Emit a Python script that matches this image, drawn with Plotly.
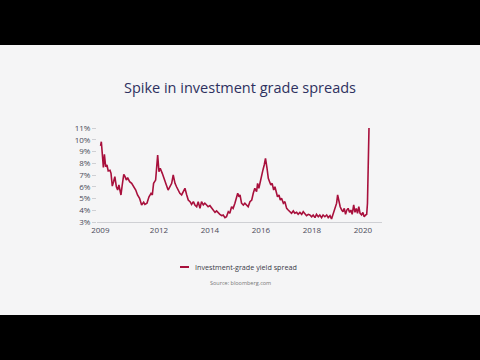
import plotly.graph_objects as go

years = [2009.71, 2009.74, 2009.82, 2009.86, 2009.91, 2009.96, 2010.01, 2010.08, 2010.12, 2010.17,
         2010.22, 2010.27, 2010.33, 2010.38, 2010.43, 2010.51, 2010.56, 2010.62, 2010.67, 2010.72,
         2010.77, 2010.85, 2010.93, 2011.01, 2011.09, 2011.16, 2011.24, 2011.32, 2011.40, 2011.45,
         2011.53, 2011.61, 2011.69, 2011.74, 2011.79, 2011.87, 2011.92, 2011.95, 2012.00, 2012.05,
         2012.13, 2012.21, 2012.29, 2012.36, 2012.43, 2012.50, 2012.56, 2012.63, 2012.69, 2012.76,
         2012.82, 2012.89, 2012.95, 2013.02, 2013.09, 2013.15, 2013.22, 2013.28, 2013.35, 2013.41,
         2013.48, 2013.54, 2013.61, 2013.67, 2013.74, 2013.80, 2013.87, 2013.93, 2014.00, 2014.07,
         2014.13, 2014.20, 2014.26, 2014.33, 2014.39, 2014.46, 2014.52, 2014.59, 2014.65, 2014.72,
         2014.78, 2014.85, 2014.91, 2014.98, 2015.05, 2015.09, 2015.14, 2015.18, 2015.24, 2015.31,
         2015.37, 2015.44, 2015.50, 2015.57, 2015.64, 2015.70, 2015.76, 2015.83, 2015.87, 2015.92,
         2015.97, 2016.03, 2016.08, 2016.13, 2016.18, 2016.24, 2016.29, 2016.34, 2016.39, 2016.44,
         2016.50, 2016.55, 2016.60, 2016.65, 2016.71, 2016.76, 2016.81, 2016.88, 2016.94, 2017.01,
         2017.07, 2017.14, 2017.20, 2017.27, 2017.33, 2017.40, 2017.46, 2017.53, 2017.60, 2017.66,
         2017.73, 2017.79, 2017.86, 2017.92, 2017.99, 2018.05, 2018.12, 2018.18, 2018.25, 2018.31,
         2018.38, 2018.44, 2018.51, 2018.58, 2018.64, 2018.71, 2018.77, 2018.84, 2018.90, 2018.97,
         2019.01, 2019.06, 2019.11, 2019.17, 2019.22, 2019.27, 2019.32, 2019.37, 2019.42, 2019.48,
         2019.53, 2019.58, 2019.64, 2019.69, 2019.74, 2019.79, 2019.84, 2019.89, 2019.95, 2020.00,
         2020.05, 2020.11, 2020.15, 2020.18, 2020.21, 2020.24]

spread = [9.47, 9.83, 7.65, 8.76, 7.70, 7.85, 7.34, 7.40, 7.14, 6.06,
          6.43, 6.86, 6.00, 5.72, 6.15, 5.30, 6.15, 7.06, 6.86, 6.57,
          6.77, 6.43, 6.29, 6.00, 5.72, 5.30, 5.02, 4.45, 4.68, 4.50,
          4.60, 5.15, 5.44, 5.30, 6.29, 6.57, 7.57, 8.70, 7.28, 7.57,
          7.14, 6.72, 6.15, 5.72, 6.00, 6.29, 7.00, 6.29, 6.00, 5.72,
          5.44, 5.30, 5.58, 5.87, 5.30, 4.87, 4.73, 4.50, 4.73, 4.45,
          4.30, 4.73, 4.16, 4.73, 4.45, 4.60, 4.45, 4.30, 4.39, 4.16,
          4.02, 3.82, 3.94, 3.74, 3.65, 3.54, 3.60, 3.37, 3.45, 3.88,
          3.74, 4.30, 4.16, 4.60, 5.20, 5.44, 5.15, 5.30, 4.60, 4.45,
          4.60, 4.45, 4.30, 4.73, 4.87, 5.44, 5.87, 5.58, 6.29, 5.87,
          6.43, 6.86, 7.43, 7.85, 8.42, 7.57, 6.72, 6.43, 6.15, 6.29,
          5.72, 6.00, 5.44, 5.15, 5.30, 4.87, 5.02, 4.60, 4.73, 4.16,
          4.02, 3.88, 3.74, 3.94, 3.74, 3.82, 3.65, 3.82, 3.65, 3.88,
          3.70, 3.54, 3.65, 3.60, 3.45, 3.60, 3.37, 3.65, 3.45, 3.60,
          3.37, 3.60, 3.45, 3.60, 3.37, 3.54, 3.26, 3.74, 4.16, 4.60,
          5.30, 4.60, 4.30, 4.02, 3.88, 4.16, 3.65, 4.02, 4.16, 3.82,
          4.02, 3.65, 4.45, 3.82, 4.16, 3.74, 4.30, 3.74, 3.60, 3.82,
          3.45, 3.60, 3.65, 4.60, 8.42, 11.03]

tick_vals = [2009.7, 2012, 2014, 2016, 2018, 2020]
tick_text = ["2009", "2012", "2014", "2016", "2018", "2020"]
y_ticks = [3, 4, 5, 6, 7, 8, 9, 10, 11]
y_text = ["3%", "4%", "5%", "6%", "7%", "8%", "9%", "10%", "11%"]
series_name = "Investment-grade yield spread"

W, H = 480, 360
L, R, T, B = 97, 98, 128, 138
pw, ph = W - L - R, H - T - B


def px_x(x):
    return (x - L) / pw


def px_y(y):
    return (H - B - y) / ph


LINE = "#a8103c"

fig = go.Figure()
fig.add_trace(go.Scatter(
    x=years, y=spread, mode="lines",
    line=dict(color=LINE, width=1.6),
    name=series_name, showlegend=False,
))

shapes = [
    dict(type="rect", xref="paper", yref="paper", x0=px_x(0), x1=px_x(W), y0=px_y(0), y1=px_y(45),
         fillcolor="black", line=dict(width=0), layer="above"),
    dict(type="rect", xref="paper", yref="paper", x0=px_x(0), x1=px_x(W), y0=px_y(315), y1=px_y(H),
         fillcolor="black", line=dict(width=0), layer="above"),
    # legend key
    dict(type="line", xref="paper", yref="paper", x0=px_x(180), x1=px_x(189), y0=px_y(267), y1=px_y(267),
         line=dict(color=LINE, width=2)),
]

fig.update_layout(
    width=W, height=H,
    margin=dict(l=L, r=R, t=T, b=B),
    paper_bgcolor="#f5f5f6", plot_bgcolor="#f5f5f6",
    font=dict(family="Open Sans", color="#555"),
    title=dict(text="Spike in investment grade spreads", x=0.5, xanchor="center",
               y=1 - 88 / H, yanchor="middle", yref="container",
               font=dict(family="Open Sans", size=14.5, color="#2e3160")),
    showlegend=False,
    shapes=shapes,
    annotations=[
        dict(text=series_name, xref="paper", yref="paper",
             x=px_x(193), y=px_y(267), showarrow=False,
             font=dict(size=7.2, color="#3a3a48"), xanchor="left", yanchor="middle"),
        dict(text="Source: bloomberg.com", xref="paper", yref="paper",
             x=px_x(240), y=px_y(283), showarrow=False,
             font=dict(size=5.5, color="#777"), xanchor="center", yanchor="middle"),
    ],
)
fig.update_xaxes(range=[2009.57, 2020.75], tickvals=tick_vals, ticktext=tick_text,
                 showgrid=False, zeroline=False, showline=True, linecolor="#cfd0d4", linewidth=1,
                 ticks="", tickfont=dict(size=8, color="#4a4a58"))
fig.update_yaxes(range=[3, 11], tickvals=y_ticks, ticktext=y_text,
                 showgrid=False, zeroline=False, showline=False,
                 ticks="outside", ticklen=4, tickcolor="#cfd0d4",
                 tickfont=dict(size=8, color="#4a4a58"))

fig.write_html("out.html")
